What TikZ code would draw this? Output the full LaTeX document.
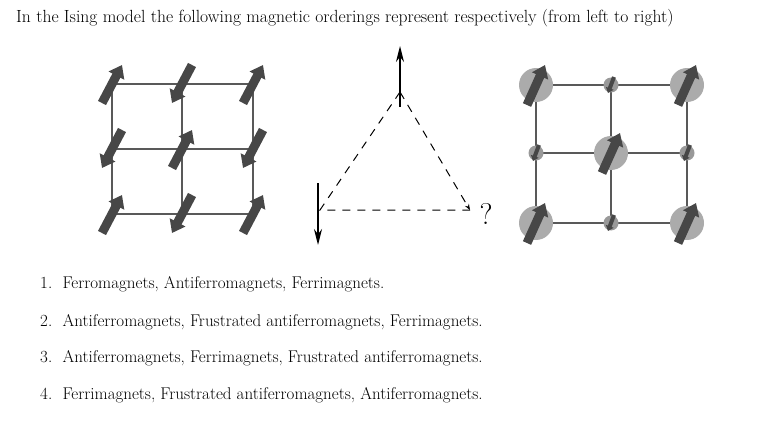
\documentclass[tikz,border=0pt]{standalone}
\usetikzlibrary{arrows.meta,calc}
\begin{document}
\begin{tikzpicture}[x=1pt,y=-1pt,
  spin/.style={line width=9pt,draw=black!72,-{Triangle[width=17pt,length=12pt]}},
  small/.style={line width=4pt,draw=black!72,-{Triangle[width=8pt,length=5pt]}},
  grid/.style={line width=1.8pt,draw=black!65},
  halo/.style={circle,fill=black!33,minimum size=34pt,inner sep=0pt},
  halos/.style={circle,fill=black!40,minimum size=15pt,inner sep=0pt},
  txt/.style={anchor=west,inner sep=0pt,font=\fontsize{17}{20}\selectfont},
  dsh/.style={line width=1pt,dash pattern=on 8pt off 7pt}]
\useasboundingbox (0,0) rectangle (780,428);
\node[anchor=north west,inner sep=0pt,font=\fontsize{17.6}{20}\selectfont] (title) at (16,9) {In the Ising model the following magnetic orderings represent respectively (from left to right)};
% left grid
\foreach \i/\x in {0/112,1/182,2/253}{\foreach \j/\y in {0/84,1/149,2/214}{\coordinate (L\i\j) at (\x,\y);}}
\draw[grid] (L00) rectangle (L22) (L10)--(L12) (L01)--(L21);
\foreach \n/\s in {L00/1,L10/-1,L20/1,L01/-1,L11/1,L21/-1,L02/1,L12/-1,L22/1}{
  \draw[spin] ($(\n)+(-10*\s,19*\s)$) -- ($(\n)+(10*\s,-19*\s)$);}
% triangle
\coordinate (T1) at (400,92); \coordinate (T2) at (320,210); \coordinate (T3) at (470,210);
\draw[dsh] (T1)--(T2)--(T3);
\draw[dsh,-{Stealth[length=6pt]}] (T1)--(T3);
\draw[line width=1.5pt,-{Stealth[length=16pt,width=8pt]}] (400,107) -- (400,46);
\draw[line width=1.5pt,-{Stealth[length=16pt,width=8pt]}] (318,183) -- (318,245);
\node[inner sep=0pt,font=\fontsize{30}{32}\selectfont] (q) at (486,214) {?};
% right grid
\foreach \i/\x in {0/536,1/611,2/687}{\foreach \j/\y in {0/85,1/153,2/223}{\coordinate (R\i\j) at (\x,\y);}}
\draw[grid] (R00) rectangle (R22) (R10)--(R12) (R01)--(R21);
\foreach \n in {R00,R20,R11,R02,R22}{
  \node[halo] at (\n) {};
  \draw[spin] ($(\n)+(-9,20)$) -- ($(\n)+(9,-20)$);}
\foreach \n in {R10,R01,R21,R12}{
  \node[halos] at (\n) {};
  \draw[small] ($(\n)+(3,-8)$) -- ($(\n)+(-3,8)$);}
% answers
\node[txt] (a1) at (40,284) {1.\ \ Ferromagnets, Antiferromagnets, Ferrimagnets.};
\node[txt] (a2) at (40,322) {2.\ \ Antiferromagnets, Frustrated antiferromagnets, Ferrimagnets.};
\node[txt] (a3) at (40,358) {3.\ \ Antiferromagnets, Ferrimagnets, Frustrated antiferromagnets.};
\node[txt] (a4) at (40,395) {4.\ \ Ferrimagnets, Frustrated antiferromagnets, Antiferromagnets.};
\end{tikzpicture}
\end{document}
